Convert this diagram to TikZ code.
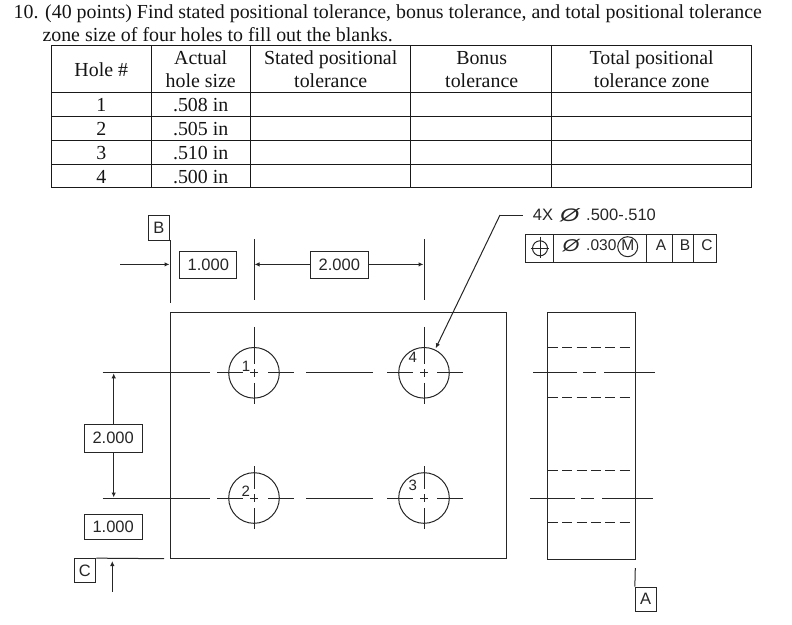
\documentclass[tikz,border=0pt]{standalone}
\usepackage{fontspec}
\setmainfont{Liberation Serif}
\newfontfamily\dimfont{Liberation Sans}
\usetikzlibrary{arrows.meta}
\tikzset{x=1pt,y=-1pt,
 tl/.style={draw=black!90,line width=1pt},
 ln/.style={draw=black!85,line width=1pt},
 arr/.style={ln,-{Latex[length=5pt,width=4.5pt]}},
 txt/.style={font=\fontsize{19.9}{22}\selectfont,inner sep=0pt,text=black!92,anchor=base},
 dim/.style={draw=black!85,line width=1pt,fill=white,font=\dimfont\fontsize{16.5}{18}\selectfont,inner sep=0pt,text=black!85},
 lbl/.style={font=\dimfont\fontsize{16.5}{18}\selectfont,inner sep=0pt,text=black!85},
 num/.style={font=\dimfont\fontsize{15}{16}\selectfont,inner sep=0pt,text=black!85},
 fcf/.style={font=\dimfont\fontsize{15.5}{17}\selectfont,inner sep=0pt,text=black!85}}
\begin{document}
\begin{tikzpicture}
\useasboundingbox (0,0) rectangle (792,624);
\node[txt,anchor=base west] (title1) at (13.5,18) {10. (40 points) Find stated positional tolerance, bonus tolerance, and total positional tolerance};
\node[txt,anchor=base west] (title2) at (42.3,41) {zone size of four holes to fill out the blanks.};
% table
\draw[tl] (51.7,45.7) rectangle (751.7,187.3);
\foreach \y in {92.3,116.3,140.3,164.3} \draw[tl] (51.7,\y) -- (751.7,\y);
\foreach \x in {151.3,250.3,410.7,551.7} \draw[tl] (\x,45.7) -- (\x,187.3);
\node[txt] (h1) at (101.3,76) {Hole \#};
\node[txt] (h2a) at (200.7,64) {Actual};
\node[txt] (h2b) at (200.7,87.3) {hole size};
\node[txt] (h3a) at (330.7,64) {Stated positional};
\node[txt] (h3b) at (330.7,87.3) {tolerance};
\node[txt] (h4a) at (481.7,64) {Bonus};
\node[txt] (h4b) at (481.7,87.3) {tolerance};
\node[txt] (h5a) at (651.7,64) {Total positional};
\node[txt] (h5b) at (651.7,87.3) {tolerance zone};
\node[txt] (r1) at (101.3,111) {1};
\node[txt] (r2) at (101.3,135) {2};
\node[txt] (r3) at (101.3,159) {3};
\node[txt] (r4) at (101.3,183) {4};
\node[txt] (s1) at (200.7,111) {.508 in};
\node[txt] (s2) at (200.7,135) {.505 in};
\node[txt] (s3) at (200.7,159) {.510 in};
\node[txt] (s4) at (200.7,183) {.500 in};
% front view
\draw[ln] (170,312.5) rectangle (506,558.7);
\foreach \x/\y/\t in {254/372.8/46,424/372.8/46,254/498/32,424/498/32}{
  \draw[ln] (\x,\y) circle (25.3);
  \draw[ln] (\x,\y-\t) -- (\x,\y-9) (\x,\y-4) -- (\x,\y+4) (\x,\y+10) -- (\x,\y+31);
}
\foreach \y in {372.8,498}{
  \draw[ln] (102.7,\y) -- (210,\y) (217,\y) -- (243,\y) (250,\y) -- (258,\y) (268,\y) -- (294,\y) (306,\y) -- (373,\y) (387,\y) -- (413,\y) (420,\y) -- (428,\y) (437,\y) -- (463,\y);
}
\node[num] (n1) at (246,366) {1};
\node[num] (n2) at (245.7,491) {2};
\node[num] (n3) at (412.7,485) {3};
\node[num] (n4) at (412.7,357.7) {4};
% top dims
\draw[ln] (170,240) -- (170,303);
\draw[ln] (254,239) -- (254,300);
\draw[ln] (424,239) -- (424,300);
\coordinate (bstart) at (120,264.4);
\coordinate (bend) at (169.5,264.4);
\draw[arr] (bstart) -- (bend);
\node[dim,minimum width=56.7pt,minimum height=27.3pt] (d1) at (208.3,265.3) {1.000};
\node[dim,minimum width=58pt,minimum height=27.3pt] (d2) at (339.3,265.3) {2.000};
\coordinate (l1) at (254.5,264.4); \coordinate (r1c) at (423.5,264.4);
\draw[arr] (d2.west |- l1) -- (l1);
\draw[arr] (d2.east |- r1c) -- (r1c);
\node[dim,minimum width=21.7pt,minimum height=25pt] (B) at (158.9,227.5) {B};
% left dims
\node[dim,minimum width=57.7pt,minimum height=28.3pt] (d3) at (113.2,438.2) {2.000};
\node[dim,minimum width=57.7pt,minimum height=25pt] (d4) at (113.2,527.2) {1.000};
\coordinate (t3) at (113.7,373.3); \coordinate (b3) at (113.7,497.5);
\draw[arr] (t3 |- d3.north) -- (t3);
\draw[arr] (b3 |- d3.south) -- (b3);
\node[dim,minimum width=21.7pt,minimum height=24.3pt] (C) at (84.9,570.8) {C};
\coordinate (c1) at (164,558.7);
\draw[ln] (C.north east) -- (c1);
\coordinate (c2) at (112.3,591.7); \coordinate (c3) at (112.3,561);
\draw[arr] (c2) -- (c3);
% side view
\draw[ln] (547.7,312.4) rectangle (635.3,559.3);
\foreach \y in {347,397,470,522.7}
  \draw[ln,dash pattern=on 10pt off 4.3pt] (548,\y) -- (631,\y);
\draw[ln] (533,372.8) -- (577,372.8) (583,372.8) -- (596,372.8) (604,372.8) -- (655,372.8);
\draw[ln] (530,498) -- (575,498) (581,498) -- (594,498) (602,498) -- (653,498);
\node[dim,minimum width=20.7pt,minimum height=24pt] (A) at (645.7,599) {A};
\coordinate (a1) at (635.3,568);
\draw[ln] (A.north west) -- (a1);
% callout
\coordinate (k1) at (522.7,215); \coordinate (k2) at (500,215); \coordinate (k3) at (435.7,348.3);
\draw[ln] (k1) -- (k2);
\draw[arr] (k2) -- (k3);
\node[lbl,anchor=west] (c4x) at (532.7,215) {4X};
\node[lbl,anchor=west] (cdia) at (560,215) {\scalebox{1.5}[1.1]{\textit{Ø}}};
\node[lbl,anchor=west] (cdim) at (586,215) {.500-.510};
% feature control frame
\draw[ln] (525,234.3) rectangle (716,262.7);
\foreach \x in {553.3,646.7,672.7,693.3} \draw[ln] (\x,234.3) -- (\x,262.7);
\coordinate (fc) at (540,248.3);
\draw[ln] (fc) circle (7.5);
\draw[ln] (530.7,248.3) -- (549.3,248.3) (540,236.7) -- (540,258);
\node[fcf,anchor=west] (fd) at (562.5,245.5) {\scalebox{1.4}[1.1]{\textit{Ø}}};
\node[fcf,anchor=west] (fv) at (586,245.5) {.030};
\draw[ln] (627.7,246.7) circle (10);
\node[fcf] (fm) at (627.7,245.5) {M};
\node[fcf] (fa) at (661,245.5) {A};
\node[fcf] (fb) at (685,245.5) {B};
\node[fcf] (fcc) at (707,245.5) {C};
\end{tikzpicture}
\end{document}
